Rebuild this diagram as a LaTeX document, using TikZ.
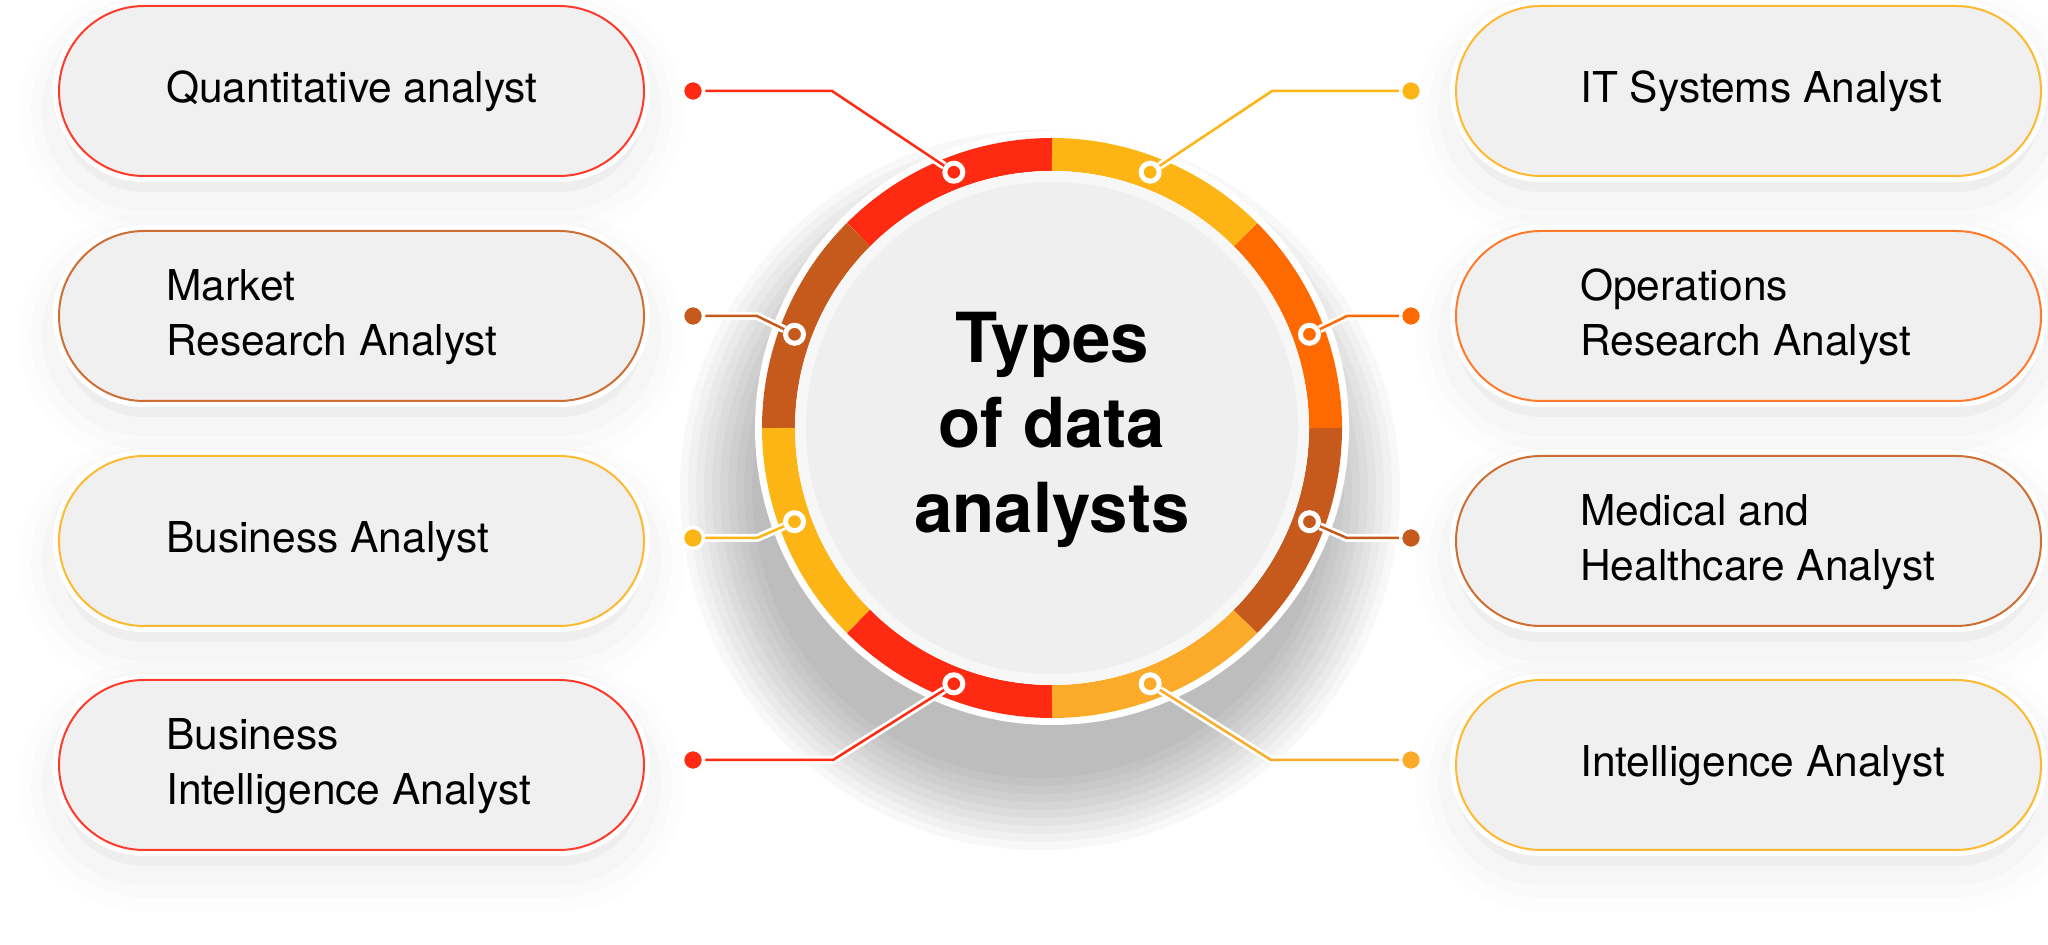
\documentclass[tikz,border=0pt]{standalone}
\usepackage{fontspec}
\setmainfont{TeX Gyre Heros}
\definecolor{cred}{HTML}{FF2A12}
\definecolor{cbrown}{HTML}{C55A1C}
\definecolor{cyellow}{HTML}{FDB515}
\definecolor{corange}{HTML}{FF6A00}
\definecolor{cyor}{HTML}{FBAA2A}
\definecolor{pillfill}{HTML}{F0F0F0}
\definecolor{bred}{HTML}{FF3A2A}
\definecolor{bbrown}{HTML}{CD6E34}
\definecolor{byellow}{HTML}{FDBA30}
\definecolor{borange}{HTML}{FF7A2C}
\definecolor{disccol}{HTML}{EFEFEF}
\definecolor{rimcol}{HTML}{F7F7F7}
\begin{document}
\begin{tikzpicture}[x=1pt,y=1pt,
  pill/.style={rounded corners=85pt, minimum width=585pt, minimum height=170pt, inner sep=0pt,
    fill=pillfill, draw=#1, line width=2pt,
    preaction={draw=black, draw opacity=0.009, fill=none, line width=80pt, transform canvas={yshift=-22pt}},
    preaction={draw=black, draw opacity=0.012, fill=none, line width=56pt, transform canvas={yshift=-20pt}},
    preaction={draw=black, draw opacity=0.016, fill=none, line width=34pt, transform canvas={yshift=-18pt}},
    preaction={fill=black, fill opacity=0.03, draw=none, transform canvas={yshift=-16pt}},
    preaction={draw=white, fill=none, line width=12pt}},
  lbl/.style={anchor=base west, inner sep=0pt, font=\fontsize{42.5}{55}\selectfont, text=black},
  ttl/.style={anchor=base, inner sep=0pt, font=\fontsize{69}{85}\selectfont\bfseries, text=black},
  enddot/.style={circle, inner sep=0pt, minimum size=21pt, fill=#1, draw=white, line width=3.5pt},
  ringmark/.style={circle, inner sep=0pt, minimum size=18pt, fill=#1, draw=white, line width=5pt},
  conn/.style={draw=#1, line width=2.5pt, line join=round, preaction={draw=white, line width=8pt, line join=round}},
  seg/.style={draw=#1, line width=33pt}
]
\useasboundingbox (0,0) rectangle (2048,945);
\fill[white] (0,0) rectangle (2048,945);
\coordinate (C) at (1052,517);

% circle shadow
\foreach \r in {288,296,...,362}{
  \fill[black, opacity=0.027] (1040,455) circle[radius=\r pt];
}

% pills
\node[pill=bred]    (pQ)  at (351.5,854) {};
\node[pill=bbrown]  (pM)  at (351.5,629) {};
\node[pill=byellow] (pB)  at (351.5,404) {};
\node[pill=bred]    (pBI) at (351.5,180) {};
\node[pill=byellow] (pIT) at (1748.5,854) {};
\node[pill=borange] (pO)  at (1748.5,629) {};
\node[pill=bbrown]  (pMe) at (1748.5,404) {};
\node[pill=byellow] (pIn) at (1748.5,180) {};

% labels
\node[lbl] (tQ)  at (166,842) {Quantitative analyst};
\node[lbl] (tM1) at (166,644) {Market};
\node[lbl] (tM2) at (166,589) {Research Analyst};
\node[lbl] (tB)  at (166,392) {Business Analyst};
\node[lbl] (tBI1) at (166,195) {Business};
\node[lbl] (tBI2) at (166,140) {Intelligence Analyst};
\node[lbl] (tIT) at (1580,842) {IT Systems Analyst};
\node[lbl] (tO1) at (1580,644) {Operations};
\node[lbl] (tO2) at (1580,589) {Research Analyst};
\node[lbl] (tMe1) at (1580,419) {Medical and};
\node[lbl] (tMe2) at (1580,364) {Healthcare Analyst};
\node[lbl] (tIn) at (1580,168) {Intelligence Analyst};

% ring
\fill[white] (C) circle[radius=297pt];
\draw[seg=cred]    ([shift={(90:273.5)}]C)  arc[start angle=90,  end angle=135, radius=273.5pt];
\draw[seg=cbrown]  ([shift={(135:273.5)}]C) arc[start angle=135, end angle=180, radius=273.5pt];
\draw[seg=cyellow] ([shift={(180:273.5)}]C) arc[start angle=180, end angle=225, radius=273.5pt];
\draw[seg=cred]    ([shift={(225:273.5)}]C) arc[start angle=225, end angle=270, radius=273.5pt];
\draw[seg=cyor]    ([shift={(270:273.5)}]C) arc[start angle=270, end angle=315, radius=273.5pt];
\draw[seg=cbrown]  ([shift={(315:273.5)}]C) arc[start angle=315, end angle=360, radius=273.5pt];
\draw[seg=corange] ([shift={(0:273.5)}]C)   arc[start angle=0,   end angle=45,  radius=273.5pt];
\draw[seg=cyellow] ([shift={(45:273.5)}]C)  arc[start angle=45,  end angle=90,  radius=273.5pt];
\fill[rimcol] (C) circle[radius=257pt];
\node[circle, fill=disccol, minimum size=492pt, inner sep=0pt] (hub) at (C) {};

% title
\node[ttl] (h1) at (1052,582) {Types};
\node[ttl] (h2) at (1052,497) {of data};
\node[ttl] (h3) at (1052,412) {analysts};

% ring markers
\node[ringmark=cred]    (mQ)  at ([shift={(111:274)}]C) {};
\node[ringmark=cyellow] (mIT) at ([shift={(69:274)}]C) {};
\node[ringmark=cbrown]  (mM)  at ([shift={(160:274)}]C) {};
\node[ringmark=corange] (mO)  at ([shift={(20:274)}]C) {};
\node[ringmark=cyellow] (mB)  at ([shift={(200:274)}]C) {};
\node[ringmark=cbrown]  (mMe) at ([shift={(-20:274)}]C) {};
\node[ringmark=cred]    (mBI) at ([shift={(249:274)}]C) {};
\node[ringmark=cyor]    (mIn) at ([shift={(291:274)}]C) {};

% end dots
\node[enddot=cred]    (dQ)  at (693,854) {};
\node[enddot=cyellow] (dIT) at (1411,854) {};
\node[enddot=cbrown]  (dM)  at (693,629) {};
\node[enddot=corange] (dO)  at (1411,629) {};
\node[enddot=cyellow] (dB)  at (693,407) {};
\node[enddot=cbrown]  (dMe) at (1411,407) {};
\node[enddot=cred]    (dBI) at (693,185) {};
\node[enddot=cyor]    (dIn) at (1411,185) {};

% bends
\coordinate (bQ)  at (832,854);
\coordinate (bIT) at (1272,854);
\coordinate (bM)  at (757,629);
\coordinate (bO)  at (1347,629);
\coordinate (bB)  at (757,407);
\coordinate (bMe) at (1347,407);
\coordinate (bBI) at (833,185);
\coordinate (bIn) at (1271,185);

% connectors
\draw[conn=cred]    (dQ)  -- (bQ)  -- (mQ);
\draw[conn=cyellow] (dIT) -- (bIT) -- (mIT);
\draw[conn=cbrown]  (dM)  -- (bM)  -- (mM);
\draw[conn=corange] (dO)  -- (bO)  -- (mO);
\draw[conn=cyellow] (dB)  -- (bB)  -- (mB);
\draw[conn=cbrown]  (dMe) -- (bMe) -- (mMe);
\draw[conn=cred]    (dBI) -- (bBI) -- (mBI);
\draw[conn=cyor]    (dIn) -- (bIn) -- (mIn);
\end{tikzpicture}
\end{document}
